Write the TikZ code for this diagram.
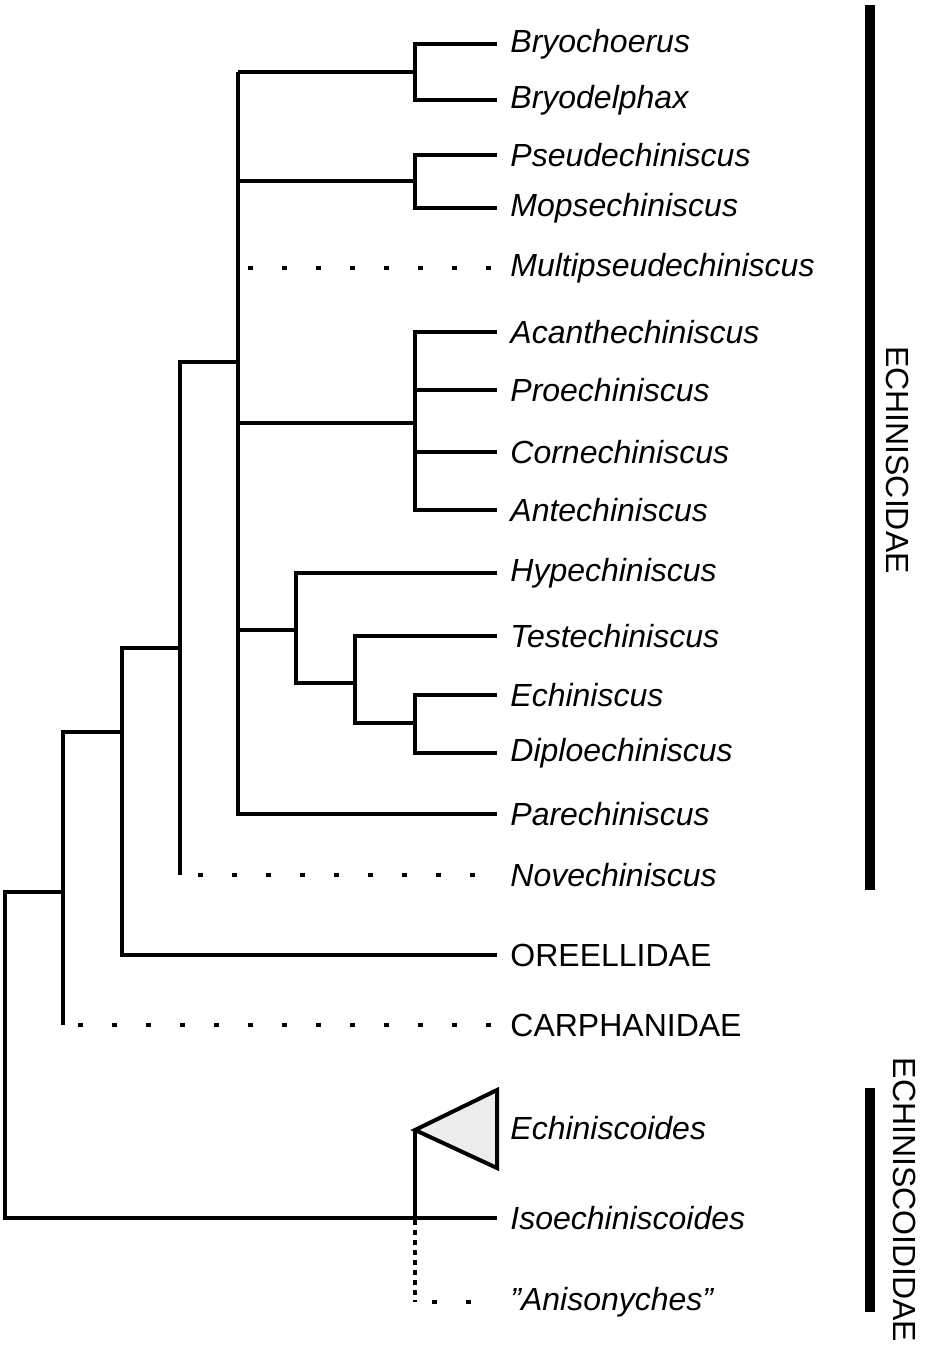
\documentclass[tikz,border=0pt]{standalone}
\usepackage{fontspec}
\setmainfont{Liberation Sans}
\begin{document}
\begin{tikzpicture}[x=0.5pt,y=-0.5pt,
  br/.style={line width=2pt},
  dot/.style={line width=2.4pt,dash pattern=on 2.4pt off 14.6pt},
  ddot/.style={line width=2.4pt,dash pattern=on 2.4pt off 2.6pt},
  lab/.style={anchor=west,font=\fontsize{16}{18}\selectfont\itshape,inner sep=0},
  labu/.style={anchor=west,font=\fontsize{16}{18}\selectfont,inner sep=0}]
\useasboundingbox (0,0) rectangle (925,1354);
\foreach \n/\y/\t in {a/44/Bryochoerus,b/100/Bryodelphax,c/155/Pseudechiniscus,d/208/Mopsechiniscus,e/268/Multipseudechiniscus,f/332/ Acanthechiniscus,g/390/Proechiniscus,h/452/ Cornechiniscus,i/510/ Antechiniscus,j/573/Hypechiniscus,k/636/ Testechiniscus,l/695/Echiniscus,m/753/Diploechiniscus,n/814/Parechiniscus,o/875/Novechiniscus,q/1128/Echiniscoides,s/1218/Isoechiniscoides,t/1302/"Anisonyches"}
  {\node[lab] (\n) at (510,\y) {\t};}
\node[labu] (p) at (510,955) {OREELLIDAE};
\node[labu] (r) at (510,1025) {CARPHANIDAE};
\draw[br] (497,44)--(415,44)--(415,100)--(497,100) (415,72)--(238,72);
\draw[br] (497,155)--(415,155)--(415,208)--(497,208) (415,181)--(238,181);
\draw[dot] (248,268)--(497,268);
\draw[br] (497,332)--(415,332)--(415,510)--(497,510) (415,390)--(497,390) (415,452)--(497,452) (415,423)--(238,423);
\draw[br] (497,573)--(296,573)--(296,683)--(355,683) (497,636)--(355,636)--(355,723)--(415,723) (497,695)--(415,695)--(415,753)--(497,753) (296,630)--(238,630);
\draw[br] (238,72)--(238,814)--(497,814);
\draw[br] (238,362)--(180,362)--(180,875);
\draw[dot] (198,875)--(497,875);
\draw[br] (180,648)--(122,648)--(122,955)--(497,955);
\draw[br] (122,732)--(63,732)--(63,1025);
\draw[dot] (78,1025)--(497,1025);
\draw[br] (63,892)--(5,892)--(5,1218)--(497,1218);
\draw[br] (415,1218)--(415,1130);
\draw[br,fill=gray!15,line join=miter] (415,1130)--(497,1090)--(497,1168)--cycle;
\draw[ddot] (415,1220)--(415,1302);
\draw[dot] (432,1302)--(497,1302);
\draw[line width=5pt] (870,5)--(870,890);
\draw[line width=5pt] (870,1088)--(870,1312);
\node[labu,anchor=center,rotate=-90] (E1) at (898,460) {ECHINISCIDAE};
\node[labu,anchor=center,rotate=-90] (E2) at (905,1200) {ECHINISCOIDIDAE};
\end{tikzpicture}
\end{document}
